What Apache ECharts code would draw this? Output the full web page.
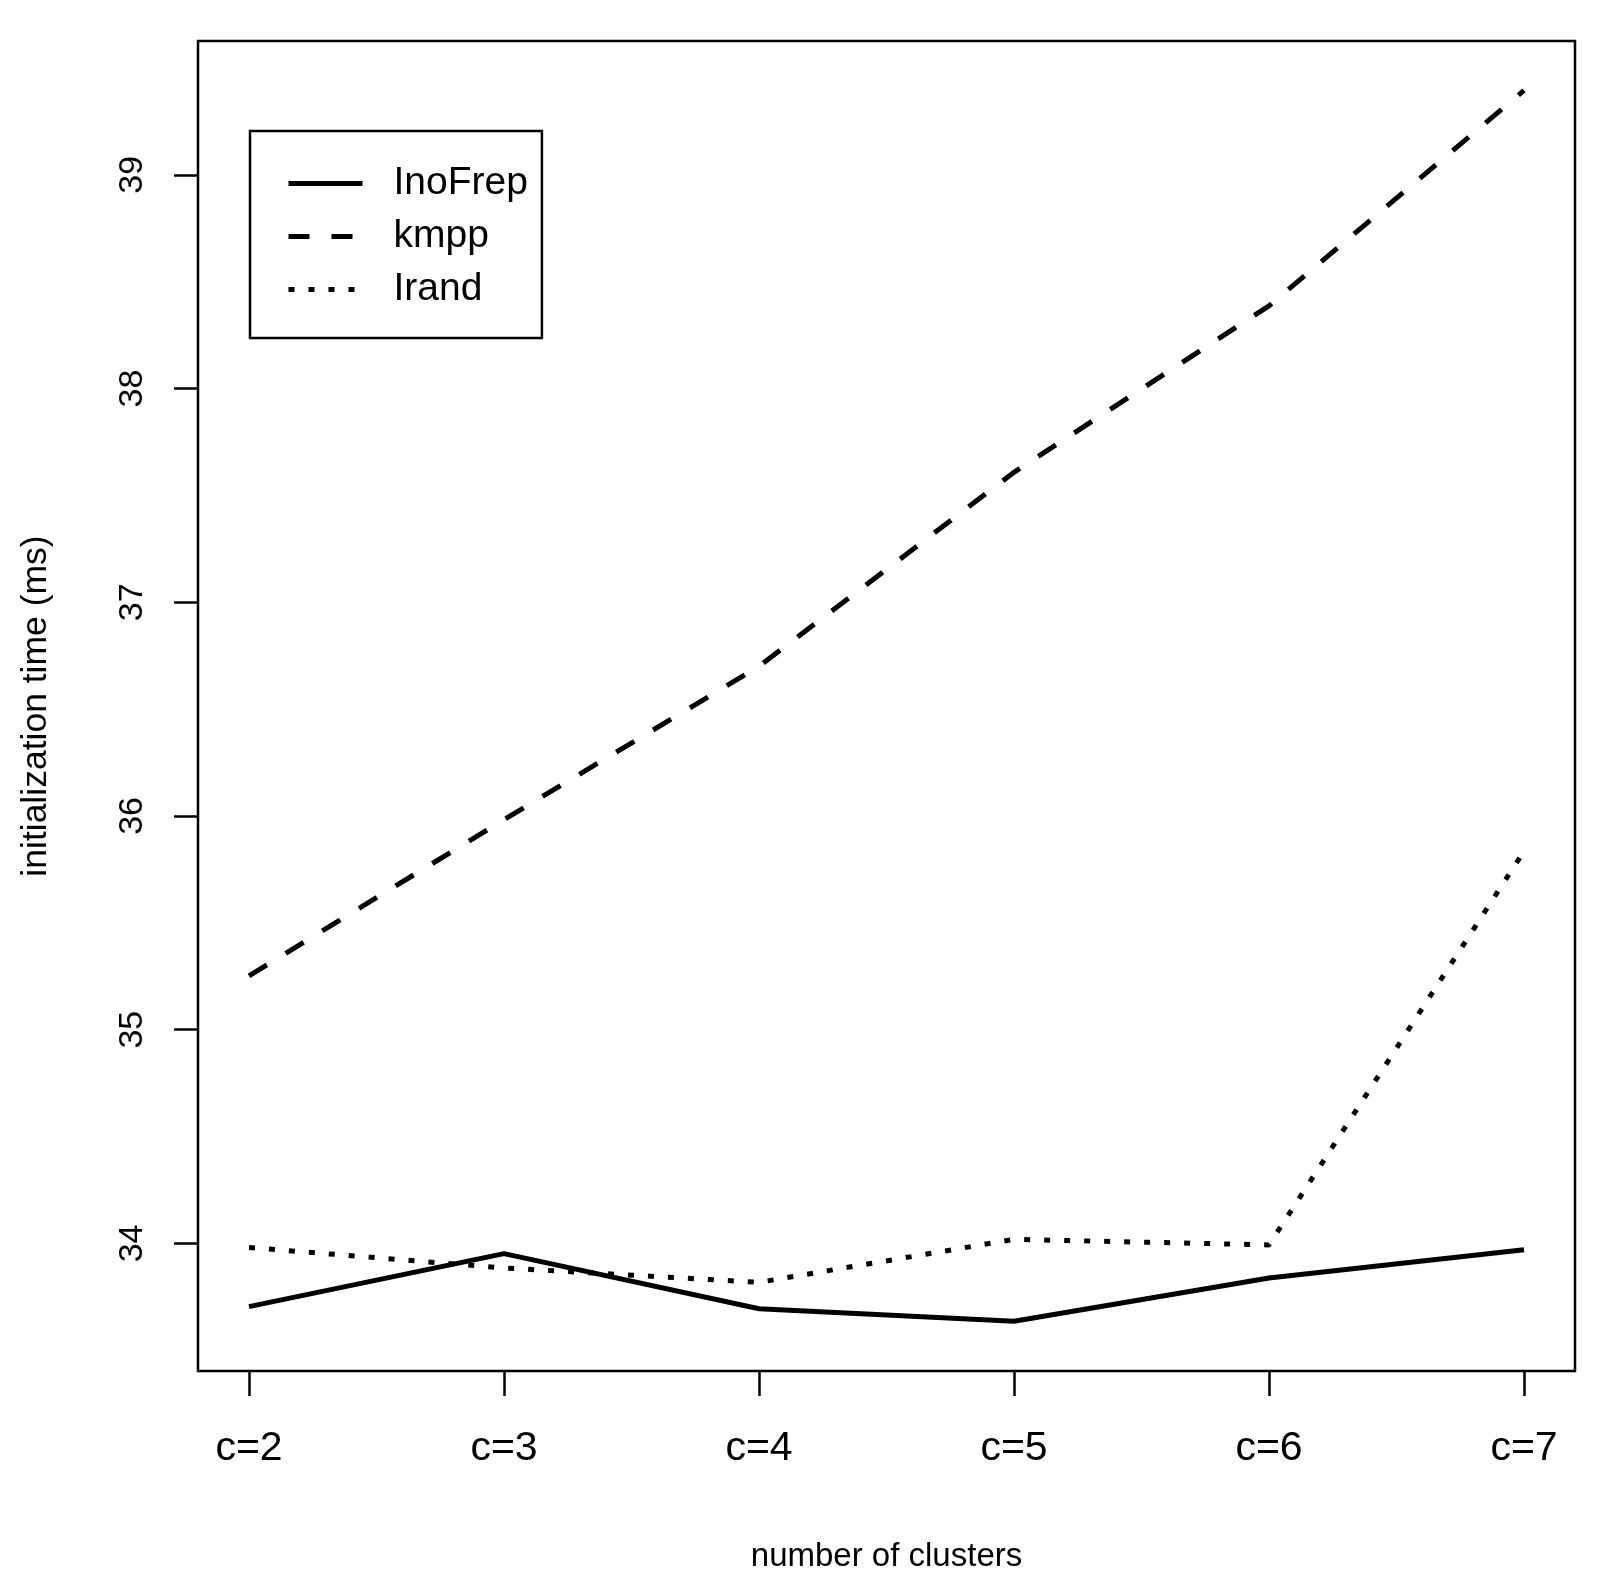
<!DOCTYPE html>
<html><head><meta charset="utf-8">
<script src="https://cdn.jsdelivr.net/npm/echarts@6/dist/echarts.min.js"></script>
<style>html,body{margin:0;padding:0;background:#fff}#c{width:1602px;height:1593px}</style>
</head><body><div id="c"></div>
<script>
const categories = ['c=2', 'c=3', 'c=4', 'c=5', 'c=6', 'c=7'];
const inoFrep = [33.704, 33.952, 33.694, 33.636, 33.838, 33.970];
const kmpp = [35.252, 35.983, 36.700, 37.608, 38.387, 39.395];
const irand = [33.981, 33.885, 33.818, 34.019, 33.993, 35.835];
const yTicks = [34, 35, 36, 37, 38, 39];
const seriesNames = ['InoFrep', 'kmpp', 'Irand'];

const xIdx = categories.map((_, i) => i);
const pts = arr => arr.map((v, i) => [i, v]);
const SANS = "'Liberation Sans', Arial, sans-serif";

const chart = echarts.init(document.getElementById('c'));
chart.setOption({
  animation: false,
  backgroundColor: '#fff',
  grid: { left: 198, right: 27, top: 41, bottom: 222, show: true, borderColor: '#000', borderWidth: 2.5 },
  xAxis: {
    type: 'value', min: -0.2, max: 5.2,
    axisLine: { show: false, onZero: false },
    splitLine: { show: false },
    axisTick: { show: true, length: 25, customValues: xIdx, lineStyle: { color: '#000', width: 2.5 } },
    axisLabel: { customValues: xIdx, formatter: v => categories[Math.round(v)], margin: 57,
      fontFamily: SANS, fontSize: 41, color: '#000' },
    name: 'number of clusters', nameLocation: 'middle', nameGap: 169,
    nameTextStyle: { fontFamily: SANS, fontSize: 33, color: '#000' }
  },
  yAxis: {
    type: 'value', min: 33.403, max: 39.626,
    axisLine: { show: false, onZero: false },
    splitLine: { show: false },
    axisTick: { show: true, length: 24, customValues: yTicks, lineStyle: { color: '#000', width: 2.5 } },
    axisLabel: { customValues: yTicks, rotate: 90, margin: 48, fontFamily: SANS, fontSize: 34, color: '#000' },
    name: 'initialization time (ms)', nameLocation: 'middle', nameRotate: 90, nameGap: 144,
    nameTextStyle: { fontFamily: SANS, fontSize: 35.5, color: '#000' }
  },
  legend: {
    orient: 'vertical', left: 250, top: 131,
    padding: [30, 14, 26, 36], itemGap: 8, itemWidth: 74, itemHeight: 14,
    borderColor: '#000', borderWidth: 2.5, backgroundColor: '#fff',
    textStyle: { fontFamily: SANS, fontSize: 39, color: '#000', padding: [14, 0, 0, 26], lineHeight: 31 },
    itemStyle: { opacity: 0, borderWidth: 0 },
    lineStyle: { width: 5 },
    data: seriesNames
  },
  series: [
    { name: seriesNames[0], type: 'line', data: pts(inoFrep), symbol: 'none', z: 3,
      lineStyle: { color: '#000', width: 5, type: 'solid', cap: 'butt' } },
    { name: seriesNames[1], type: 'line', data: pts(kmpp), symbol: 'none',
      lineStyle: { color: '#000', width: 5, type: [21, 22], cap: 'butt' } },
    { name: seriesNames[2], type: 'line', data: pts(irand), symbol: 'none',
      lineStyle: { color: '#000', width: 5, type: [6, 14], cap: 'butt' } }
  ]
});
</script></body></html>
